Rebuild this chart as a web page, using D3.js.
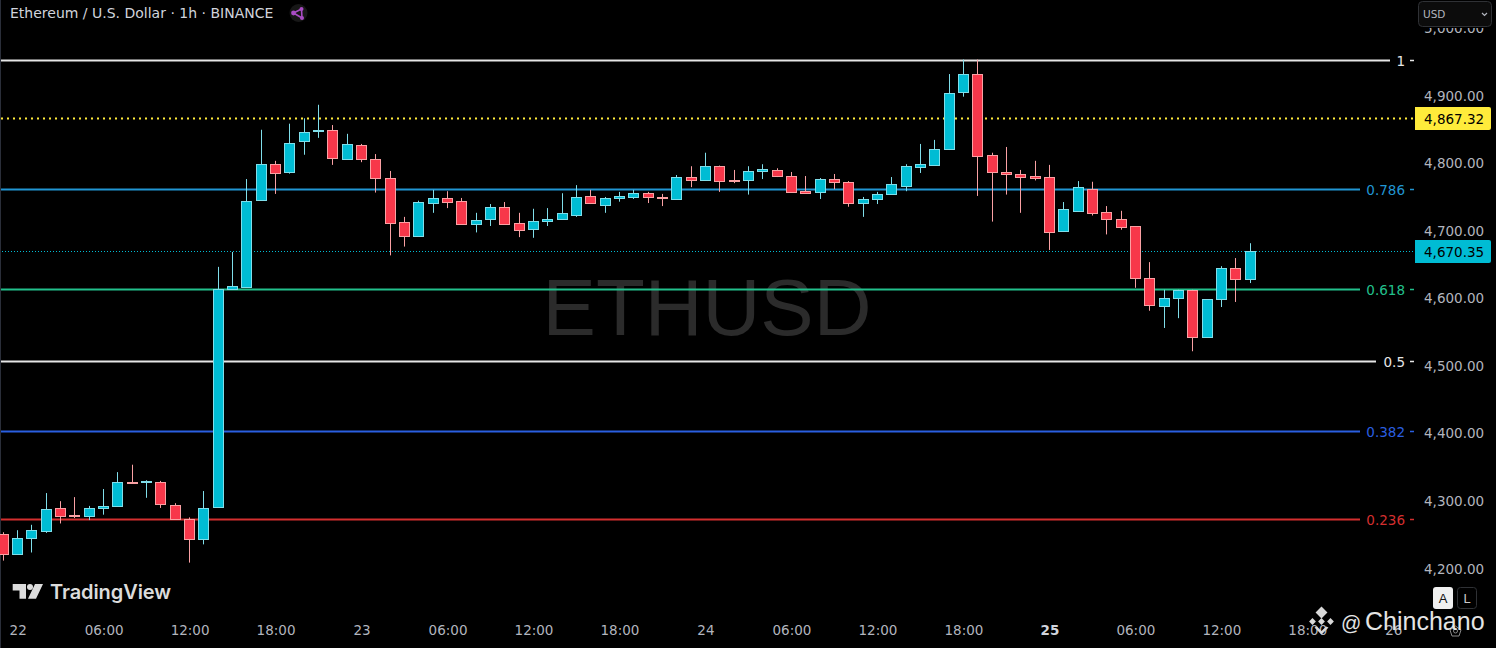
<!DOCTYPE html>
<html lang="en">
<head>
  <meta charset="UTF-8">
  <title>ETHUSD 1h</title>
  <style>
    body { margin: 0; background: #000; overflow: hidden; }
    svg { display: block; font-family: "Liberation Sans", Arial, sans-serif; }
    .axis text { fill: #b2b5be; font-family: "DejaVu Sans", sans-serif; font-size: 13.5px; }
    .axis path, .axis line { display: none; }
  </style>
</head>
<body>
  <script src="https://d3js.org/d3.v7.min.js"></script>
  <script>
    // hourly candles, first one is 21 Sep 23:00
    const opens = [4252,4222,4244.5,4256,4289.5,4279,4278,4290,4292,4328.5,4329,4328,4295,4273,4244,4291,4614,4616,4745,4799,4788,4832,4847,4849,4807,4827,4806,4778,4713,4693,4742,4749,4744,4711,4717,4735,4711.5,4702,4714,4717,4724,4751.5,4739,4748,4751,4756,4750.5,4748,4780,4776,4797,4775,4775,4788,4790,4781,4760,4758,4777,4772,4740.5,4746.5,4754,4767,4795,4797,4820.5,4905,4932,4812,4787,4784,4781,4780,4699,4730,4763,4728,4717.5,4707,4630,4588,4600,4612,4542,4600,4646,4629.5];
    const highs = [4254,4257,4265,4312,4300,4306,4293,4318,4343,4354,4331,4330,4297,4276,4315,4647,4669,4777,4850,4804,4859,4867,4887,4857,4844,4829,4814,4789,4721,4745,4761,4759,4749,4727,4740,4743,4727,4733,4734,4756,4768,4761,4750.5,4758,4761,4758,4755,4783,4796,4816,4797,4790.5,4796,4799,4793,4787.5,4781.5,4778.5,4784.5,4774,4750.5,4758,4780,4799,4829,4835,4932.5,4954,4954,4816,4824.5,4790.5,4804,4798,4743,4774,4773,4737,4730,4707,4654,4613,4613,4613,4599,4648,4660,4682];
    const lows = [4212,4221,4224,4253,4267,4275,4272,4280,4292,4327,4305,4290,4274,4209,4236,4291,4614,4616,4745,4755,4785,4813,4838,4798,4807,4802,4757,4664,4677,4693,4727,4734,4709,4698,4707.5,4709,4691,4690,4707.5,4717,4721,4740,4727,4743.5,4747.5,4741.5,4737,4748,4765,4776,4758,4771,4754,4777,4780,4758,4757,4747.5,4762,4736,4721,4740,4754,4759,4786,4797,4820,4899,4752,4714,4754,4727,4775,4672,4699,4729,4723,4695,4702,4616,4582,4556.5,4571,4522,4542,4587.5,4595,4623];
    const closes = [4222,4245,4257,4288,4277,4278,4290,4293,4328,4327,4330,4295,4274,4244,4290,4614,4618,4744,4799,4786,4831,4846,4849,4807,4828.5,4807,4778,4711,4693,4743,4749,4743.5,4709.5,4717,4735,4709.5,4700.5,4714.5,4717.5,4726,4750,4740.5,4749,4751.5,4757,4749.5,4749.5,4780,4776,4797,4775,4774,4788.5,4791.5,4780.5,4758,4757,4777,4772,4740.5,4747,4754.5,4769,4796,4799,4821,4904,4932,4810,4786.5,4783.5,4779,4778,4699,4732,4765,4728,4717,4705,4629.5,4589.5,4600.5,4612,4542,4599,4646,4629.5,4670.35];

    const priceTicks = [4200,4300,4400,4500,4600,4700,4800,4900,5000];
    const timeTicks = [1,7,13,19,25,31,37,43,49,55,61,67,73,79,85,91,97];
    const timeLabels = ["22","06:00","12:00","18:00","23","06:00","12:00","18:00","24","06:00","12:00","18:00","25","06:00","12:00","18:00","26"];

    const fibLevels = ["1","0.786","0.618","0.5","0.382","0.236"];
    const fibPrices = [4953.3,4763,4613.5,4508.3,4403.2,4273.6];
    const fibColors = ["#e6e6e6","#2196d3","#22c08c","#e6e6e6","#2a5fe0","#d32f2f"];

    const alertPrice = 4867.32;
    const lastPrice = 4670.35;

    const width = 1496, height = 648;
    const x = d3.scaleLinear().domain([0, 87]).range([3.3, 1250]);
    const y = d3.scaleLinear().domain([4200, 4900]).range([568.7, 96]);
    const fmt = d3.format(",.2f");

    const svg = d3.select("body").append("svg").attr("width", width).attr("height", height);
    svg.append("rect").attr("width", width).attr("height", height).attr("fill", "#000");
    svg.append("rect").attr("width", 1).attr("height", height).attr("fill", "#2a2e39");

    // watermark
    svg.append("text").attr("x", 707).attr("y", 335).attr("text-anchor", "middle")
      .attr("font-size", 80).attr("fill", "#2b2b2b").text("ETHUSD");

    // fib lines
    const fibG = svg.append("g");
    fibLevels.forEach((lv, i) => {
      const py = Math.round(y(fibPrices[i])) + 0.5;
      const endX = lv === "1" ? 1390 : lv === "0.5" ? 1376 : 1360;
      fibG.append("line").attr("x1", 1).attr("x2", endX).attr("y1", py).attr("y2", py)
        .attr("stroke", fibColors[i]).attr("stroke-width", 2);
      fibG.append("text").attr("x", 1405).attr("y", py + 5).attr("text-anchor", "end")
        .attr("font-size", 13.5).attr("font-family", "DejaVu Sans").attr("fill", fibColors[i]).text(lv);
      fibG.append("line").attr("x1", 1410).attr("x2", 1414).attr("y1", py).attr("y2", py)
        .attr("stroke", fibColors[i]).attr("stroke-width", 1.5);
    });

    // price lines
    svg.append("line").attr("x1", 1).attr("x2", 1413)
      .attr("stroke", "#ffeb3b").attr("stroke-width", 2).attr("stroke-dasharray", "2,4")
      .attr("y1", Math.round(y(alertPrice)) + 0.5).attr("y2", Math.round(y(alertPrice)) + 0.5);
    svg.append("line").attr("x1", 2).attr("x2", 1413)
      .attr("y1", Math.round(y(lastPrice)) + 0.5).attr("y2", Math.round(y(lastPrice)) + 0.5)
      .attr("stroke", "#00bcd4").attr("stroke-dasharray", "1,2").attr("shape-rendering", "crispEdges");

    // candles
    const candles = opens.map((o, i) => ({ i, o, h: highs[i], l: lows[i], c: closes[i] }));
    const candle = svg.append("g").selectAll("g").data(candles).enter().append("g");
    candle.append("line")
      .attr("x1", d => Math.floor(x(d.i)) + 0.5).attr("x2", d => Math.floor(x(d.i)) + 0.5)
      .attr("y1", d => y(d.h)).attr("y2", d => y(d.l))
      .attr("stroke", d => d.c >= d.o ? "#80deea" : "#faa1a4");
    candle.append("rect")
      .attr("x", d => Math.floor(x(d.i)) - 4.5).attr("width", 10)
      .attr("y", d => Math.round(y(Math.max(d.o, d.c))) + 0.5)
      .attr("height", d => Math.max(1, Math.round(Math.abs(y(d.o) - y(d.c)))))
      .attr("fill", d => d.c >= d.o ? "#00bcd4" : "#f7374a")
      .attr("stroke", d => d.c >= d.o ? "#80deea" : "#faa1a4");

    // axes
    svg.append("g").attr("class", "axis").attr("transform", "translate(1417,0)")
      .call(d3.axisRight(y).tickValues(priceTicks).tickFormat(d3.format(",.2f")).tickSize(0).tickPadding(7));
    const xAxis = svg.append("g").attr("class", "axis").attr("transform", "translate(0,621)")
      .call(d3.axisBottom(x).tickValues(timeTicks).tickFormat((d, i) => timeLabels[i]).tickSize(0).tickPadding(4));
    xAxis.selectAll("text").filter((d, i) => timeLabels[i] === "25")
      .attr("font-weight", "bold").style("fill", "#d1d4dc");

    // price tags
    const tags = [[alertPrice, "#ffeb3b"], [lastPrice, "#00bcd4"]];
    tags.forEach(([p, col]) => {
      const py = Math.round(y(p));
      svg.append("path")
        .attr("d", `M1415,${py - 11}H1489a2,2 0 0 1 2,2V${py + 10}a2,2 0 0 1 -2,2H1415Z`)
        .attr("fill", col);
      svg.append("text").attr("x", 1424).attr("y", py + 5.5)
        .attr("font-family", "DejaVu Sans").attr("font-size", 13.5).attr("fill", "#000").text(fmt(p));
    });

    // header
    svg.append("text").attr("x", 10).attr("y", 18).attr("font-family", "DejaVu Sans")
      .attr("font-size", 14).attr("fill", "#d1d4dc").text("Ethereum / U.S. Dollar · 1h · BINANCE");
    const icon = svg.append("g").attr("transform", "translate(298.5,13)");
    icon.append("circle").attr("r", 9).attr("fill", "#171717");
    icon.append("path").attr("d", "M-5,0L3,-4L3.5,5Z").attr("fill", "none").attr("stroke", "#a94cc4").attr("stroke-width", 1.6);
    [[-5, 0, 2.4], [3, -4, 2], [3.5, 5, 2]].forEach(n => {
      icon.append("circle").attr("cx", n[0]).attr("cy", n[1]).attr("r", n[2]).attr("fill", "#a94cc4");
    });

    // currency button covers the 5,000 label
    svg.append("rect").attr("x", 1416).attr("width", 78).attr("height", 28).attr("fill", "#000");
    svg.append("rect").attr("x", 1418.5).attr("y", 1.5).attr("width", 73).attr("height", 25).attr("rx", 4)
      .attr("fill", "#0c0c0c").attr("stroke", "#2f3135");
    svg.append("text").attr("x", 1423).attr("y", 18).attr("font-family", "DejaVu Sans")
      .attr("font-size", 10.5).attr("fill", "#b2b5be").text("USD");
    svg.append("path").attr("d", "M1482,13l2.5,2.5l2.5,-2.5").attr("fill", "none").attr("stroke", "#b2b5be").attr("stroke-width", 1.2);

    // TradingView logo
    svg.append("path").attr("fill", "#dcdcdc")
      .attr("d", "M12.7,584H26V598.7H19.5V590.5H12.7ZM35,584H43L36,598.7H28Z");
    svg.append("circle").attr("cx", 30).attr("cy", 587).attr("r", 3).attr("fill", "#dcdcdc");
    svg.append("text").attr("x", 50).attr("y", 599).attr("font-family", "Inter").attr("font-weight", 600)
      .attr("font-size", 20).attr("textLength", 121).attr("fill", "#dcdcdc").text("TradingView");

    // A / L buttons
    svg.append("rect").attr("x", 1433).attr("y", 587).attr("width", 20).attr("height", 22).attr("rx", 3).attr("fill", "#f0f0f0");
    svg.append("text").attr("x", 1443).attr("y", 602.5).attr("text-anchor", "middle").attr("font-size", 13).attr("fill", "#111").text("A");
    svg.append("rect").attr("x", 1457.5).attr("y", 587.5).attr("width", 19).attr("height", 21).attr("rx", 3).attr("fill", "#000").attr("stroke", "#2f3135");
    svg.append("text").attr("x", 1467).attr("y", 602.5).attr("text-anchor", "middle").attr("font-size", 13).attr("fill", "#c8c8c8").text("L");

    // settings icon, mostly under the credit text
    svg.append("path").attr("d", "M1450,630l5.5,-4l5.5,4l-2,6h-7Z").attr("fill", "none").attr("stroke", "#888");
    svg.append("circle").attr("cx", 1455.5).attr("cy", 631).attr("r", 2).attr("fill", "none").attr("stroke", "#888");

    // source credit
    const bin = svg.append("g").attr("fill", "#d8d8d8").attr("transform", "translate(1321.5,621.5)");
    [[0, -9, 4.2], [-9, 0, 2.4], [9, 0, 2.4], [0, 0, 2.4]].forEach(d => {
      bin.append("rect").attr("x", d[0] - d[2]).attr("y", d[1] - d[2]).attr("width", d[2] * 2).attr("height", d[2] * 2)
        .attr("transform", `rotate(45 ${d[0]} ${d[1]})`);
    });
    bin.append("path").attr("d", "M-7,6L0,13L7,6L4.5,5L0,9.5L-4.5,5Z");
    svg.append("text").attr("x", 1341).attr("y", 630).attr("font-size", 20).attr("fill", "#e4e4e4").text("@");
    svg.append("text").attr("x", 1365).attr("y", 630).attr("font-size", 25).attr("fill", "#e4e4e4").text("Chinchano");
  </script>
</body>
</html>
